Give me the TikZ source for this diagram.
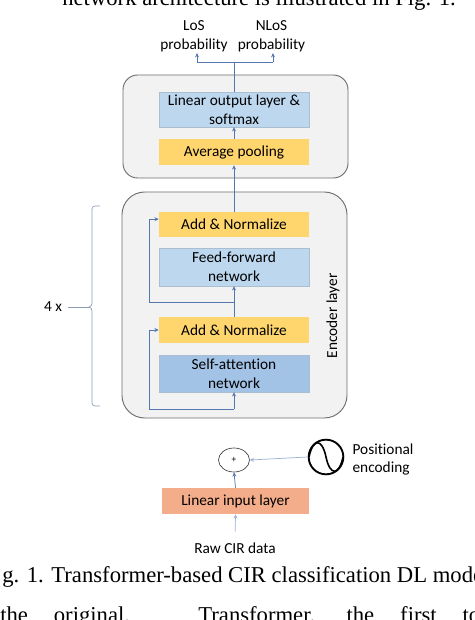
\documentclass[tikz,border=0pt]{standalone}
\usepackage{fontspec}
\setmainfont{Carlito}[Ligatures=CommonOff]
\newfontfamily\capfont{Liberation Serif}
\usetikzlibrary{arrows.meta,shapes.geometric}
\definecolor{lineblue}{HTML}{5577B0}
\definecolor{lightline}{HTML}{9DB4D6}
\definecolor{bracecol}{HTML}{8C9DB8}
\definecolor{contfill}{HTML}{F2F2F2}
\definecolor{contdraw}{HTML}{6E6E6E}
\definecolor{boxblue}{HTML}{BDD7EE}
\definecolor{boxblueD}{HTML}{A2C2E6}
\definecolor{boxyellow}{HTML}{FFD66E}
\definecolor{boxsalmon}{HTML}{F4AD8A}
\tikzset{
  lbl/.style={font=\fontsize{11.5}{14}\selectfont, text=black, align=center, inner sep=1pt},
  cont/.style={draw=contdraw, fill=contfill, line width=0.7pt},
  bbox/.style={lbl, fill=boxblue, draw=boxblue!85!black!90, line width=0.3pt, minimum width=112.5pt},
  ybox/.style={lbl, fill=boxyellow, minimum width=112.5pt},
  ln/.style={draw=lineblue, line width=0.55pt},
  arr/.style={ln, -{Stealth[length=3.2pt,width=3pt]}},
  captxt/.style={font=\capfont\fontsize{17}{20}\selectfont, inner sep=0pt, text=black}
}
\begin{document}
\begin{tikzpicture}[x=0.75pt,y=-0.75pt]
\useasboundingbox (0,0) rectangle (474,620);
\clip (0,0) rectangle (474,620);
\fill[white] (0,0) rectangle (474,620);

% surrounding paper text
\node[captxt, anchor=base east] (toptext) at (456,6) {network architecture is illustrated in Fig. 1.};
\node[captxt, anchor=base west] (caption) at (2,582) {g. 1. Transformer-based CIR classification DL model};
\node[captxt, anchor=base west] (nextline) at (0,622) {\makebox[360pt][s]{the original. Transformer, the first to}};

% containers
\node[cont, rounded corners=11pt, minimum width=168.75pt, minimum height=77.25pt] (outc) at (235.5,126.5) {};
\node[cont, rounded corners=17pt, minimum width=168.75pt, minimum height=169.5pt] (encc) at (234.5,305) {};

% outputs
\node[lbl] (los) at (194,36) {LoS\\probability};
\node[lbl] (nlos) at (271.5,36) {NLoS\\probability};

% boxes
\node[bbox, minimum height=26.25pt] (lout) at (234,109.5) {Linear output layer \&\\softmax};
\node[ybox, minimum height=19.5pt] (avg) at (234,152) {Average pooling};
\node[ybox, minimum height=18.75pt] (an1) at (234,224.5) {Add \& Normalize};
\node[bbox, minimum height=28.5pt] (ff) at (234,267) {Feed-forward\\network};
\node[ybox, minimum height=19.5pt] (an2) at (234,330) {Add \& Normalize};
\node[bbox, fill=boxblueD, minimum height=27.75pt] (sa) at (234,373.5) {Self-attention\\network};
\node[lbl, rotate=90] (enclbl) at (333,316) {Encoder layer};

% repetition brace
\node[lbl] (four) at (53,307) {4 x};
\coordinate (bmid) at (89,307);
\draw[bracecol, line width=0.5pt] (100,206) -- (95,206) to[out=180,in=90] (92,209) -- (92,303) to[out=-90,in=0] (bmid) to[out=0,in=90] (92,311) -- (92,403) to[out=-90,in=180] (95,406) -- (100,406);
\draw[bracecol, line width=0.5pt] (four.east) ++(4,0) -- (bmid);

% input part
\node[draw=black!75, line width=0.5pt, ellipse, minimum width=23.25pt, minimum height=18pt, inner sep=0pt, font=\fontsize{7}{8}\selectfont] (plus) at (234,460) {+};
\node[circle, draw=black, line width=1.4pt, minimum size=26pt, inner sep=0pt] (pe) at (326,457) {};
\draw[black, line width=1.2pt] (309,457) .. controls (313,438) and (322,438) .. (326,457) .. controls (330,476) and (339,476) .. (343,457);
\node[lbl, align=left, anchor=west, font=\fontsize{11.5}{13.5}\selectfont] (petxt) at (351,459) {Positional\\encoding};
\node[lbl, fill=boxsalmon, minimum width=110.25pt, minimum height=19.5pt] (lin) at (235.5,501) {Linear input layer};
\node[lbl] (raw) at (235,548) {Raw CIR data};

% connectors
\coordinate (split) at (234,62);
\coordinate (la) at (197,62);
\coordinate (na) at (273,62);
\draw[ln] (lout.north) -- (split);
\draw[ln] (la) -- (na);
\draw[arr] (la) -- (la |- los.south);
\draw[arr] (na) -- (na |- nlos.south);
\draw[arr] (avg.north) -- (lout.south);
\draw[arr] (an1.north) -- (avg.south);
\draw[arr] (an2.north) -- (ff.south);
\coordinate (s1) at (149,302);
\coordinate (s2) at (149,409);
\draw[arr] (an2.north |- s1) -- (s1) |- ([yshift=4pt]an1.west);
\draw[arr] (s2 -| sa.south) -- (sa.south);
\draw[arr] (s2 -| sa.south) -- (s2) |- (an2.west);
\draw[arr, draw=lightline] (pe.west) -- (plus.east);
\draw[arr] (lin.north) -- (plus.south);
\draw[arr, draw=lightline, shorten <=7pt] (raw.north) -- (lin.south);
\end{tikzpicture}
\end{document}
